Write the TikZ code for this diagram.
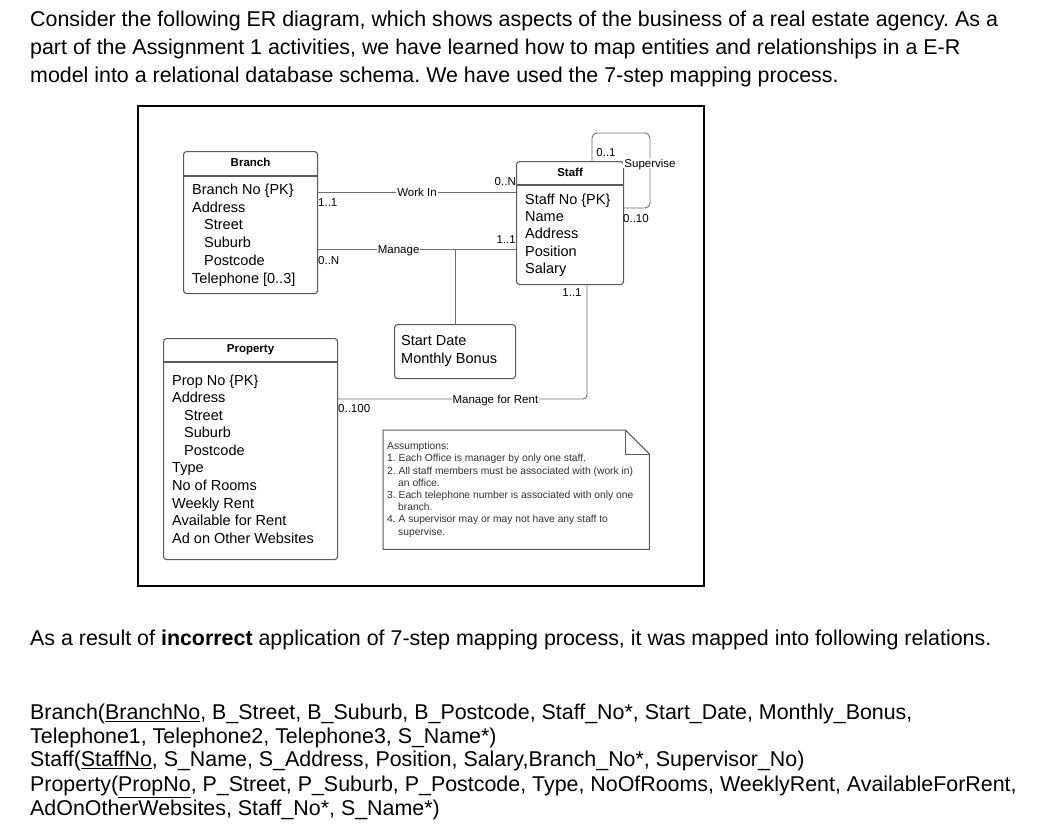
\documentclass[tikz,border=0pt]{standalone}
\usepackage{fontspec}
\setmainfont{Liberation Sans}
\usetikzlibrary{calc}
\frenchspacing
\definecolor{boxc}{HTML}{5A5A5A}
\definecolor{linec}{HTML}{707070}
\definecolor{notec}{HTML}{333333}
\tikzset{
 entity/.style={draw=boxc, line width=1.1pt, rounded corners=3pt, inner sep=0pt, anchor=north west},
 hline/.style={draw=boxc, line width=1.1pt},
 hdr/.style={font=\fontsize{11.5}{13}\selectfont\bfseries, inner sep=0pt, text height=8.3pt, text depth=0pt},
 attr/.style={font=\fontsize{14.5}{17}\selectfont, anchor=west, inner sep=0pt, text height=10.4pt, text depth=0pt},
 card/.style={font=\fontsize{11.5}{13}\selectfont, inner sep=0pt, text height=8.3pt, text depth=0pt},
 rlbl/.style={card, fill=white, inner xsep=1pt, inner ysep=1pt},
 rel/.style={draw=linec, line width=0.9pt},
 para/.style={font=\fontsize{21.4}{24}\selectfont\frenchspacing, anchor=west, inner sep=0pt, text height=15.3pt, text depth=0pt},
 ntxt/.style={font=\fontsize{10.3}{12}\selectfont\frenchspacing, text=notec, anchor=west, inner sep=0pt, text height=7.4pt, text depth=0pt},
}
\begin{document}
\begin{tikzpicture}[x=1pt,y=-1pt]
\useasboundingbox (0,0) rectangle (1053,831);
\fill[white] (0,0) rectangle (1053,831);
% ---------- paragraph text ----------
\node[para] (p1) at (30,19) {Consider the following ER diagram, which shows aspects of the business of a real estate agency. As a};
\node[para] (p2) at (30,47) {part of the Assignment 1 activities, we have learned how to map entities and relationships in a E-R};
\node[para] (p3) at (30,75) {model into a relational database schema. We have used the 7-step mapping process.};
\node[para] (p4) at (30,638) {As a result of \textbf{incorrect} application of 7-step mapping process, it was mapped into following relations.};
\node[para] (r1) at (30,712) {Branch(\underline{BranchNo}, B\_Street, B\_Suburb, B\_Postcode, Staff\_No*, Start\_Date, Monthly\_Bonus,};
\node[para] (r2) at (30,736) {Telephone1, Telephone2, Telephone3, S\_Name*)};
\node[para] (r3) at (30,759) {Staff(\underline{StaffNo}, S\_Name, S\_Address, Position, Salary,Branch\_No*, Supervisor\_No)};
\node[para] (r4) at (30,784) {Property(\underline{PropNo}, P\_Street, P\_Suburb, P\_Postcode, Type, NoOfRooms, WeeklyRent, AvailableForRent,};
\node[para] (r5) at (30,808) {AdOnOtherWebsites, Staff\_No*, S\_Name*)};
% ---------- frame ----------
\node[draw=black, line width=1.6pt, minimum width=566, minimum height=480, anchor=north west, inner sep=0pt] (frame) at (137,105) {};
% ---------- Branch ----------
\node[entity, minimum width=134, minimum height=142] (branch) at (183,151) {};
\draw[hline] ([yshift=-25pt]branch.north west) -- ([yshift=-25pt]branch.north east);
\node[hdr] (branchT) at ($(branch.north)+(0,11)$) {Branch};
\foreach \yy/\xx/\t [count=\i] in {189/192/Branch No \{PK\}, 207/192/Address, 224/204/Street, 242/204/Suburb, 260/204/Postcode, 278/192/Telephone [0..3]}
  \node[attr] (ba\i) at (\xx,\yy) {\t};
% ---------- Staff ----------
\node[entity, minimum width=107, minimum height=123] (staff) at (516,161) {};
\draw[hline] ([yshift=-24pt]staff.north west) -- ([yshift=-24pt]staff.north east);
\node[hdr] (staffT) at ($(staff.north)+(0,11)$) {Staff};
\foreach \yy/\xx/\t [count=\i] in {199/525/Staff No \{PK\}, 216/525/Name, 233/525/Address, 251/525/Position, 268/525/Salary}
  \node[attr] (sa\i) at (\xx,\yy) {\t};
% ---------- Property ----------
\node[entity, minimum width=174, minimum height=221] (property) at (163,338) {};
\draw[hline] ([yshift=-24pt]property.north west) -- ([yshift=-24pt]property.north east);
\node[hdr] (propertyT) at ($(property.north)+(0,10)$) {Property};
\foreach \yy/\xx/\t [count=\i] in {380/172/Prop No \{PK\}, 397/172/Address, 415/184/Street, 432/184/Suburb, 450/184/Postcode, 467/172/Type, 485/172/No of Rooms, 503/172/Weekly Rent, 520/172/Available for Rent, 538/172/Ad on Other Websites}
  \node[attr] (pa\i) at (\xx,\yy) {\t};
% ---------- Start Date / Monthly Bonus ----------
\node[entity, minimum width=121, minimum height=54] (startdate) at (394,324) {};
\node[attr] (sd1) at (401,340) {Start Date};
\node[attr] (sd2) at (401,358) {Monthly Bonus};
% ---------- relationships ----------
\coordinate (wiy) at (0,192);
\draw[rel] (branch.east |- wiy) -- node[rlbl, pos=0.5] (workin) {Work In} (staff.west |- wiy);
\node[card, anchor=west] (c1) at (318,202) {1..1};
\node[card, anchor=east] (c2) at (516,181) {0..N};
\coordinate (mgy) at (0,249);
\draw[rel] (branch.east |- mgy) -- node[rlbl, pos=0.407] (manage) {Manage} (staff.west |- mgy);
\draw[rel] (startdate.north) -- (startdate.north |- mgy);
\node[card, anchor=west] (c3) at (318,260) {0..N};
\node[card, anchor=east] (c4) at (516,239) {1..1};
\coordinate (mfr) at (587,399);
\draw[rel, rounded corners=4pt] (property.east |- mfr) -- node[rlbl, pos=0.632] (mfrl) {Manage for Rent} (mfr) -- (staff.south -| mfr);
\node[card, anchor=west] (c5) at (338,408) {0..100};
\node[card] (c6) at (572,292) {1..1};
\coordinate (s1) at (592,133);
\coordinate (s2) at (650,208);
\draw[rel, rounded corners=5pt] (staff.north -| s1) -- (s1) -- (s1 -| s2) -- (s2) -- (staff.east |- s2);
\node[rlbl] (sup) at (650,163) {Supervise};
\node[card] (c7) at (606,152) {0..1};
\node[card, anchor=west] (c8) at (623,218) {0..10};
% ---------- note ----------
\node[minimum width=266, minimum height=119, anchor=north west, inner sep=0pt] (note) at (383,430) {};
\draw[draw=boxc, line width=1pt] (note.north west) -- ([xshift=-24pt]note.north east) -- ([yshift=-24pt]note.north east) -- (note.south east) -- (note.south west) -- cycle;
\draw[draw=boxc, line width=1pt] ([xshift=-24pt]note.north east) -- ([xshift=-24pt,yshift=-24pt]note.north east) -- ([yshift=-24pt]note.north east);
\node[ntxt] (n0) at (387,446) {Assumptions:};
\node[ntxt] (n1) at (387,458) {1. Each Office is manager by only one staff.};
\node[ntxt] (n2) at (387,471) {2. All staff members must be associated with (work in)};
\node[ntxt] (n2b) at (398,483) {an office.};
\node[ntxt] (n3) at (387,495) {3. Each telephone number is associated with only one};
\node[ntxt] (n3b) at (398,507) {branch.};
\node[ntxt] (n4) at (387,519) {4. A supervisor may or may not have any staff to};
\node[ntxt] (n4b) at (398,532) {supervise.};
\end{tikzpicture}
\end{document}
